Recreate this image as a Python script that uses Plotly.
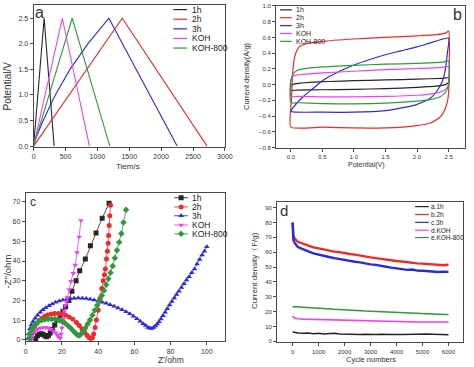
import plotly.graph_objects as go

W, H = 474, 367

# ---------------- data: panel a (charge/discharge) ----------------
a_names = ["1h", "2h", "3h", "KOH", "KOH-800"]
a_1h_t = [0, 165, 322]
a_1h_v = [0.0, 2.5, 0.0]
a_2h_t = [0, 1390, 2720]
a_2h_v = [0.0, 2.5, 0.0]
a_3h_t = [0, 150, 340, 570, 850, 1180, 2250]
a_3h_v = [0.05, 0.5, 1.0, 1.5, 2.0, 2.5, 0.0]
a_koh_t = [0, 450, 875]
a_koh_v = [0.0, 2.5, 0.0]
a_k800_t = [0, 605, 1195]
a_k800_v = [0.0, 2.5, 0.0]

# ---------------- data: panel b (CV) ----------------
b_names = ["1h", "2h", "3h", "KOH", "KOH-800"]
b_1h_v = [0.0, 0.0, 0.02, 0.06, 0.15, 0.3, 0.6, 1.0, 1.5, 2.0, 2.4, 2.5, 2.5, 2.45, 2.3, 2.0, 1.5, 1.0, 0.5, 0.1, 0.0]
b_1h_i = [-0.07, -0.02, 0.0, 0.01, 0.02, 0.03, 0.04, 0.05, 0.06, 0.07, 0.08, 0.085, 0.03, 0.0, -0.02, -0.035, -0.05, -0.06, -0.065, -0.07, -0.07]
b_2h_v = [0.0, 0.01, 0.03, 0.06, 0.1, 0.15, 0.25, 0.5, 1.0, 1.5, 2.0, 2.3, 2.45, 2.5, 2.5, 2.48, 2.44, 2.38, 2.3, 2.2, 2.0, 1.5, 1.0, 0.5, 0.0]
b_2h_i = [-0.54, -0.2, 0.15, 0.35, 0.44, 0.49, 0.52, 0.55, 0.58, 0.6, 0.62, 0.635, 0.655, 0.68, -0.1, -0.22, -0.32, -0.4, -0.45, -0.49, -0.52, -0.55, -0.55, -0.54, -0.54]
b_3h_v = [0.0, 0.05, 0.1, 0.2, 0.35, 0.5, 0.75, 1.0, 1.25, 1.5, 1.75, 2.0, 2.25, 2.5, 2.48, 2.45, 2.4, 2.3, 2.2, 2.0, 1.8, 1.5, 1.0, 0.5, 0.0]
b_3h_i = [-0.34, -0.28, -0.23, -0.15, -0.05, 0.05, 0.16, 0.25, 0.32, 0.38, 0.43, 0.48, 0.54, 0.59, 0.4, 0.2, 0.04, -0.1, -0.18, -0.25, -0.29, -0.33, -0.35, -0.35, -0.34]
b_koh_v = [0.0, 0.0, 0.03, 0.08, 0.2, 0.5, 1.0, 1.5, 2.0, 2.4, 2.5, 2.5, 2.45, 2.35, 2.2, 2.0, 1.5, 1.0, 0.5, 0.1, 0.0]
b_koh_i = [-0.15, 0.05, 0.1, 0.12, 0.13, 0.15, 0.17, 0.19, 0.205, 0.22, 0.23, 0.0, -0.06, -0.1, -0.12, -0.135, -0.15, -0.155, -0.155, -0.15, -0.15]
b_k800_v = [0.0, 0.0, 0.04, 0.1, 0.2, 0.5, 1.0, 1.5, 2.0, 2.4, 2.5, 2.5, 2.45, 2.35, 2.2, 2.0, 1.5, 1.0, 0.5, 0.1, 0.0]
b_k800_i = [-0.23, 0.05, 0.14, 0.18, 0.2, 0.225, 0.245, 0.26, 0.27, 0.285, 0.3, 0.0, -0.1, -0.16, -0.19, -0.21, -0.235, -0.245, -0.24, -0.23, -0.23]

# ---------------- data: panel c (Nyquist), (Z', -Z'') ----------------
c_names = ["1h", "2h", "3h", "KOH", "KOH-800"]
c_1h = [(5.5, 0.5), (6.5, 2.0), (7.5, 2.8), (8.5, 3.1), (9.5, 2.8), (10.5, 2.1), (11.5, 1.5),
        (12.5, 2.2), (13.5, 3.5), (14.7, 5.2), (16.0, 7.5), (17.5, 10.0), (19.0, 12.5),
        (20.5, 14.5), (22.0, 16.8), (23.8, 20.0), (25.5, 24.7), (27.8, 30.0), (29.8, 35.0),
        (32.9, 41.0), (35.7, 47.7), (38.8, 54.2), (42.2, 61.7), (46.0, 69.3)]
c_2h = [(2.5, 0.5), (3.0, 2.5), (3.8, 4.5), (4.8, 6.5), (6.0, 8.3), (7.5, 9.8), (9.0, 11.0),
        (10.5, 11.9), (12.0, 12.6), (14.0, 13.1), (16.0, 13.3), (18.0, 13.4), (20.0, 13.1),
        (22.0, 12.5), (24.0, 11.6), (26.0, 10.4), (28.0, 8.8), (29.5, 7.3), (31.0, 5.6),
        (32.5, 3.8), (33.8, 2.3), (35.0, 1.2), (36.0, 0.7), (36.8, 1.0), (37.5, 3.0),
        (38.3, 6.3), (39.0, 10.0), (40.0, 15.0), (41.0, 21.0), (42.0, 26.0), (42.8, 30.0),
        (43.5, 33.0), (44.0, 36.0), (44.6, 41.0), (45.1, 45.0), (45.5, 49.0), (45.8, 53.0),
        (46.1, 58.0), (46.4, 63.0), (46.8, 68.3)]
c_3h = [(1.0, 0.5), (1.5, 3.0), (2.2, 5.5), (3.0, 7.5), (4.0, 9.3), (5.2, 11.0), (6.5, 12.5),
        (8.0, 14.0), (9.5, 15.2), (11.0, 16.3), (12.8, 17.3), (14.6, 18.2), (16.5, 19.0),
        (18.5, 19.7), (20.5, 20.2), (22.5, 20.6), (24.6, 20.9), (26.8, 21.1), (29.0, 21.2),
        (31.2, 21.1), (33.4, 20.9), (35.6, 20.6), (37.8, 20.2), (40.0, 19.7), (42.2, 19.1),
        (44.4, 18.5), (46.6, 17.8), (48.8, 17.0), (51.0, 16.2), (53.2, 15.3), (55.4, 14.3),
        (57.5, 13.2), (59.5, 12.0), (61.4, 10.7), (63.2, 9.4), (64.8, 8.2), (66.2, 7.2),
        (67.5, 6.3), (68.6, 5.8), (69.6, 5.7), (70.6, 6.2), (71.6, 7.0), (72.6, 8.0),
        (73.6, 9.2), (74.7, 10.6), (75.8, 12.2), (77.0, 14.0), (78.2, 15.8), (79.4, 17.6),
        (80.7, 19.5), (82.0, 21.2), (83.3, 23.0), (84.6, 24.7), (86.0, 26.5), (87.4, 28.5),
        (88.8, 30.3), (90.2, 32.0), (91.7, 34.0), (93.2, 36.0), (94.6, 38.5), (96.0, 40.8),
        (97.4, 43.0), (98.7, 45.0), (100.0, 47.2)]
c_koh = [(3.0, 0.5), (3.5, 2.0), (4.3, 3.5), (5.3, 4.6), (6.5, 5.4), (8.0, 6.0), (9.5, 6.3),
         (11.0, 6.3), (12.5, 6.0), (14.0, 5.4), (15.3, 4.5), (16.5, 3.5), (17.5, 2.3),
         (18.3, 1.3), (19.0, 0.8), (19.5, 3.0), (20.0, 6.0), (20.6, 10.5), (21.1, 14.7),
         (21.8, 17.5), (22.4, 19.5), (23.0, 21.5), (24.0, 25.5), (25.0, 29.7), (26.2, 33.8),
         (27.3, 38.0), (28.3, 44.3), (29.4, 52.2), (30.5, 60.5)]
c_k800 = [(2.0, 0.5), (2.5, 3.0), (3.2, 5.0), (4.2, 6.8), (5.5, 8.2), (7.0, 9.2), (8.7, 9.9),
          (10.5, 10.3), (12.3, 10.5), (14.2, 10.6), (16.0, 10.5), (17.8, 10.2), (19.6, 9.6),
          (21.4, 8.7), (23.1, 7.4), (24.7, 6.0), (26.2, 4.6), (27.5, 3.3), (28.6, 2.4),
          (29.6, 2.2), (30.6, 3.0), (31.7, 4.3), (32.9, 6.0), (34.2, 8.0), (35.5, 10.0),
          (36.8, 12.5), (38.1, 15.0), (39.4, 17.5), (40.7, 20.0), (42.0, 22.5), (43.2, 25.0),
          (44.4, 28.0), (45.6, 31.0), (46.8, 34.0), (48.0, 37.5), (49.2, 41.5), (50.4, 45.5),
          (51.6, 49.5), (52.8, 54.0), (54.0, 59.5), (55.4, 66.0)]

# ---------------- data: panel d (cycling) ----------------
d_names = ["a.1h", "b.2h", "c.3h", "d.KOH", "e.KOH-800"]
d_cycles = [0, 10, 25, 50, 100, 150, 200, 400, 600, 800, 1000, 1200, 1400, 1600, 1800, 2000,
            2200, 2400, 2600, 2800, 3000, 3200, 3400, 3600, 3800, 4000, 4200, 4400, 4600,
            4800, 5000, 5200, 5400, 5600, 5800, 6000]
d_1h = [6.6, 6.4, 6.3, 6.1, 6.0, 5.8, 5.6, 5.4, 5.6, 5.2, 5.4, 5.0, 5.3, 5.5, 4.9, 4.7, 4.5,
        4.4, 4.6, 4.8, 4.6, 4.7, 4.8, 4.6, 4.7, 4.6, 4.7, 4.8, 4.9, 5.0, 5.0, 4.9, 4.8, 4.7,
        4.6, 4.4]
d_2h = [80, 75, 72, 70, 68.5, 67.8, 67, 65.6, 64.5, 63.3, 62.6, 61.7, 61.2, 60.4, 60.1, 59.3,
        58.8, 58.4, 57.6, 56.8, 56.5, 56, 55.4, 55.2, 54.6, 54.1, 53.8, 53.2, 53, 52.5, 52.3,
        52, 51.7, 51.4, 51.2, 51.6]
d_3h = [80, 72, 69, 67, 65.5, 64.5, 63.5, 61.8, 60.5, 59.2, 58.3, 57.2, 56.8, 56, 55.3, 54.8,
        54.4, 53.6, 53.2, 52.3, 51.8, 51.5, 50.6, 50.2, 49.6, 49, 48.7, 48.1, 48.4, 47.6, 47.5,
        47.2, 47.3, 46.7, 46.9, 46.8]
d_koh = [17, 16.6, 16.3, 16, 15.6, 15.3, 15.2, 15, 14.9, 14.7, 14.5, 14.4, 14.3, 14.2, 14.1,
         14, 13.9, 13.9, 13.7, 13.6, 13.5, 13.4, 13.5, 13.3, 13.3, 13.2, 13.2, 13.1, 13.1, 13,
         13, 13, 12.9, 13, 12.9, 13]
d_k800 = [23.5, 23.4, 23.3, 23.2, 23.4, 23.6, 23.3, 23, 22.7, 22.6, 22.3, 22.2, 21.9, 21.6,
          21.5, 21.2, 21, 20.9, 20.6, 20.4, 20.3, 20.1, 19.9, 19.8, 19.6, 19.4, 19.3, 19.1, 19,
          18.8, 18.7, 18.5, 18.4, 18.3, 18.2, 18.1]

# ---------------- styling ----------------
COLORS = ["#262626", "#ee2a2a", "#2a2ae0", "#f040f0", "#2f9a3a"]
C_SYMBOLS = ["square", "circle", "triangle-up", "triangle-down", "diamond"]
FONT = "Liberation Sans, Arial, sans-serif"
AX = "#4a4a4a"


def px(x):
    return x / W


def py(y):
    return 1 - y / H


fig = go.Figure()

# panel a
for (t, v), c, n in zip([(a_1h_t, a_1h_v), (a_2h_t, a_2h_v), (a_3h_t, a_3h_v),
                         (a_koh_t, a_koh_v), (a_k800_t, a_k800_v)], COLORS, a_names):
    fig.add_trace(go.Scatter(x=t, y=v, mode="lines", name=n, showlegend=False,
                             line=dict(color=c, width=1.1), xaxis="x", yaxis="y"))
# panel b
for (v, i), c, n in zip([(b_1h_v, b_1h_i), (b_2h_v, b_2h_i), (b_3h_v, b_3h_i),
                         (b_koh_v, b_koh_i), (b_k800_v, b_k800_i)], COLORS, b_names):
    fig.add_trace(go.Scatter(x=v, y=i, mode="lines", name=n, showlegend=False,
                             line=dict(color=c, width=1.2, shape="spline", smoothing=0.5),
                             xaxis="x2", yaxis="y2"))
# panel c
for pts, c, s, n in zip([c_1h, c_2h, c_3h, c_koh, c_k800], COLORS, C_SYMBOLS, c_names):
    fig.add_trace(go.Scatter(x=[p[0] for p in pts], y=[p[1] for p in pts], mode="lines+markers",
                             name=n, showlegend=False,
                             line=dict(color=c, width=0.8),
                             marker=dict(color=c, symbol=s, size=5, line=dict(width=0)),
                             xaxis="x3", yaxis="y3"))
# panel d
for ys, c, n, wd in zip([d_1h, d_2h, d_3h, d_koh, d_k800], COLORS, d_names,
                        [1.5, 2.4, 2.4, 1.6, 1.6]):
    fig.add_trace(go.Scatter(x=d_cycles, y=ys, mode="lines", name=n, showlegend=False,
                             line=dict(color=c, width=wd), xaxis="x4", yaxis="y4"))

annotations = []


def add_legend(names, x0, x1, xt, ys, fsize, symbols=None, lw=1.2):
    for k, (n, c, y) in enumerate(zip(names, COLORS, ys)):
        fig.add_trace(go.Scatter(x=[x0, x1], y=[y, y], mode="lines", showlegend=False,
                                 line=dict(color=c, width=lw), hoverinfo="skip",
                                 xaxis="x5", yaxis="y5"))
        if symbols is not None:
            fig.add_trace(go.Scatter(x=[(x0 + x1) / 2], y=[y], mode="markers",
                                     showlegend=False, hoverinfo="skip",
                                     marker=dict(color=c, symbol=symbols[k], size=5,
                                                 line=dict(width=0)),
                                     xaxis="x5", yaxis="y5"))
        annotations.append(dict(x=px(xt), y=py(y), xref="paper", yref="paper", text=n,
                                showarrow=False, xanchor="left", yanchor="middle",
                                borderpad=0,
                                font=dict(family=FONT, size=fsize, color="#222")))


add_legend(a_names, 175, 189, 193, [6.7, 16.5, 26.3, 36, 45.8], 8.5)
add_legend(b_names, 284, 296, 299, [7, 15, 23, 31, 39], 7)
add_legend(c_names, 176, 190, 193, [198, 207.3, 216.3, 225.7, 234.7], 8.5, symbols=C_SYMBOLS,
           lw=0.9)
add_legend(d_names, 422, 436, 437.5, [207, 215, 223, 231, 238.5], 6.5)


def text(x, y, s, size, angle=0):
    annotations.append(dict(x=px(x), y=py(y), xref="paper", yref="paper", text=s,
                            showarrow=False, xanchor="center", yanchor="middle",
                            textangle=angle, borderpad=0,
                            font=dict(family=FONT, size=size, color="#333")))


# axis titles
text(6, 84, "Potential/V", 10, -90)
text(129, 166, "Tiem/s", 8)
text(250.5, 74, "Current density(A/g)", 7.5, -90)
text(372, 165, "Potential(V)", 7)
text(6, 273, "-Z''/ohm", 9.5, -90)
text(173, 362.5, "Z'/ohm", 8.5)
text(258, 272, "Current density\uff08F/g)", 8, -90)
text(377, 362.5, "Cycle numbers", 7.5)
# panel letters
text(38, 10, "a", 16)
text(465, 12, "b", 16)
text(32, 202, "c", 12)
text(288, 211, "d", 15)


def axis(domain, rng, dtick, fsize, anchor, fmt=None):
    d = dict(domain=domain, range=rng, dtick=dtick, anchor=anchor, showgrid=False,
             zeroline=False, showline=True, mirror=True, linecolor=AX, linewidth=1,
             ticks="outside", ticklen=3, tickcolor=AX, tickwidth=1,
             tickfont=dict(family=FONT, size=fsize, color="#333"))
    if fmt:
        d["tickformat"] = fmt
    return d


fig.update_layout(
    width=W, height=H, autosize=False,
    margin=dict(l=0, r=0, t=0, b=0),
    paper_bgcolor="white", plot_bgcolor="rgba(0,0,0,0)",
    showlegend=False,
    xaxis=dict(**axis([px(32.3), px(227.7)], [0, 3000], 500, 7, "y"), tick0=0),
    yaxis=dict(**axis([py(146), py(2.5)], [-0.01, 2.75], 0.5, 7, "x", ".1f"), tick0=0),
    xaxis2=dict(**axis([px(280), px(473)], [-0.233, 2.76], 0.5, 6, "y2", ".1f"), tick0=0),
    yaxis2=dict(**axis([py(147), py(3)], [-0.8, 1.0], 0.2, 6, "x2", ".1f"), tick0=-0.8),
    xaxis3=dict(**axis([px(24.3), px(227.7)], [0, 110], 20, 7, "y3"), tick0=0),
    yaxis3=dict(**axis([py(344), py(193)], [-0.8, 74.6], 10, 7, "x3"), tick0=0),
    xaxis4=dict(**axis([px(281), px(471)], [-600, 6560], 1000, 6, "y4"), tick0=0),
    yaxis4=dict(**axis([py(345), py(202)], [-0.66, 94], 10, 6, "x4"), tick0=0),
    xaxis5=dict(domain=[0, 1], range=[0, W], visible=False, fixedrange=True, anchor="y5"),
    yaxis5=dict(domain=[0, 1], range=[H, 0], visible=False, fixedrange=True, anchor="x5"),
    annotations=annotations,
)

fig.write_html("out.html", config={"displayModeBar": False},
               post_script="document.body.style.margin='0';")
